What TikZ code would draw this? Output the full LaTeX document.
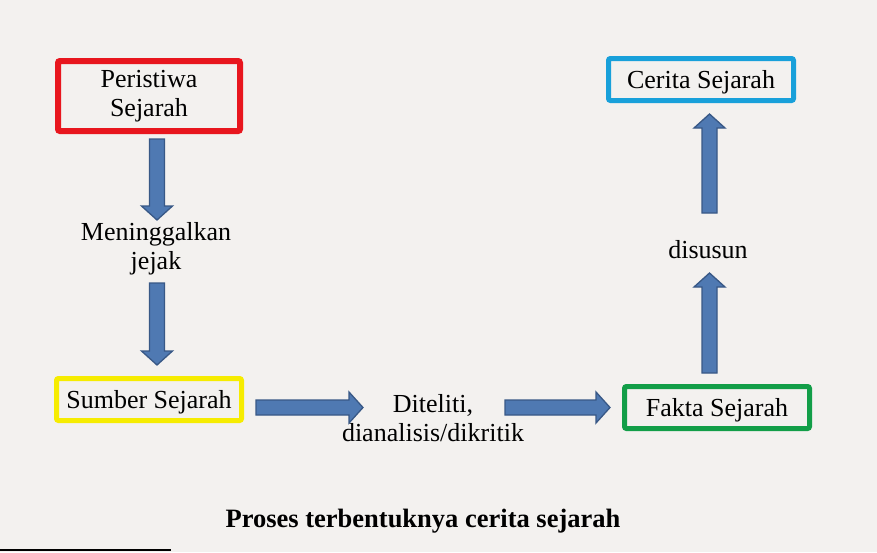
\documentclass[tikz,border=0pt]{standalone}
\usepackage{fontspec}
\setmainfont{Liberation Serif}
\usetikzlibrary{calc}

\definecolor{bgcream}{RGB}{243,241,239}
\definecolor{boxred}{RGB}{232,22,30}
\definecolor{boxyellow}{RGB}{246,236,0}
\definecolor{boxgreen}{RGB}{18,158,72}
\definecolor{boxblue}{RGB}{24,160,218}
\definecolor{arrowfill}{RGB}{79,121,178}
\definecolor{arrowedge}{RGB}{56,88,134}

\tikzset{
    box/.style={draw, rounded corners=2pt, line width=5pt, minimum width=185pt,
        minimum height=42pt, inner sep=0pt, align=center,
        font=\fontsize{26}{29}\selectfont},
    onebox/.style={box, text height=22pt, text depth=5pt},
    lbl/.style={inner sep=0pt, align=center, font=\fontsize{26}{29}\selectfont},
    fatarrow/.style={fill=arrowfill, draw=arrowedge, line width=1.3pt, line join=miter}
}

% block arrow from #1 to #2 (shaft 15pt, head 31pt wide, 14pt long)
\newcommand{\blockarrow}[2]{%
    \path #1 coordinate (ba-s) #2 coordinate (ba-e);
    \coordinate (ba-h) at ($(ba-e)!14pt!(ba-s)$);
    \draw[fatarrow] ($(ba-s)!7.5pt!90:(ba-e)$) -- ($(ba-h)!7.5pt!90:(ba-e)$)
        -- ($(ba-h)!15.5pt!90:(ba-e)$) -- (ba-e) -- ($(ba-h)!15.5pt!-90:(ba-e)$)
        -- ($(ba-h)!7.5pt!-90:(ba-e)$) -- ($(ba-s)!7.5pt!-90:(ba-e)$) -- cycle;
}

\begin{document}
\begin{tikzpicture}[x=1pt,y=-1pt]
    \fill[bgcream] (0,0) rectangle (877,552);
    \useasboundingbox (0,0) rectangle (877,552);

    % Boxes
    \node[box, draw=boxred, line width=6pt, minimum width=182pt, minimum height=70pt] (peristiwa) at (149,96) {Peristiwa\\Sejarah};
    \node[onebox, draw=boxyellow] (sumber) at (149,399.5) {Sumber Sejarah};
    \node[onebox, draw=boxgreen] (fakta) at (717,407.5) {Fakta Sejarah};
    \node[onebox, draw=boxblue] (cerita) at (701,79.5) {Cerita Sejarah};

    % Step labels
    \node[lbl] (jejak) at (156,249) {Meninggalkan\\jejak};
    \node[lbl] (diteliti) at (433,418) {Diteliti,\\dianalisis/dikritik};
    \node[lbl] (disusun) at (708,250) {disusun};

    % Arrows
    \blockarrow{([xshift=8pt,yshift=-5pt]peristiwa.south)}{([xshift=1pt,yshift=29pt]jejak.center)}
    \blockarrow{([xshift=1pt,yshift=-34pt]jejak.center)}{([xshift=8pt,yshift=11pt]sumber.north)}
    \blockarrow{([xshift=12pt,yshift=-8pt]sumber.east)}{([xshift=-70pt,yshift=10.5pt]diteliti.center)}
    \blockarrow{([xshift=72pt,yshift=10.5pt]diteliti.center)}{([xshift=-12pt]fakta.west)}
    \blockarrow{([xshift=-7.5pt,yshift=11pt]fakta.north)}{([xshift=1.5pt,yshift=-23pt]disusun.center)}
    \blockarrow{([xshift=1.5pt,yshift=37pt]disusun.center)}{([xshift=8.5pt,yshift=-11pt]cerita.south)}

    % Caption
    \node[lbl, font=\fontsize{26.5}{29}\selectfont\bfseries] (judul) at (423,521) {Proses terbentuknya cerita sejarah};
    \draw[line width=1.5pt] (0,550) -- (171,550);
\end{tikzpicture}
\end{document}
